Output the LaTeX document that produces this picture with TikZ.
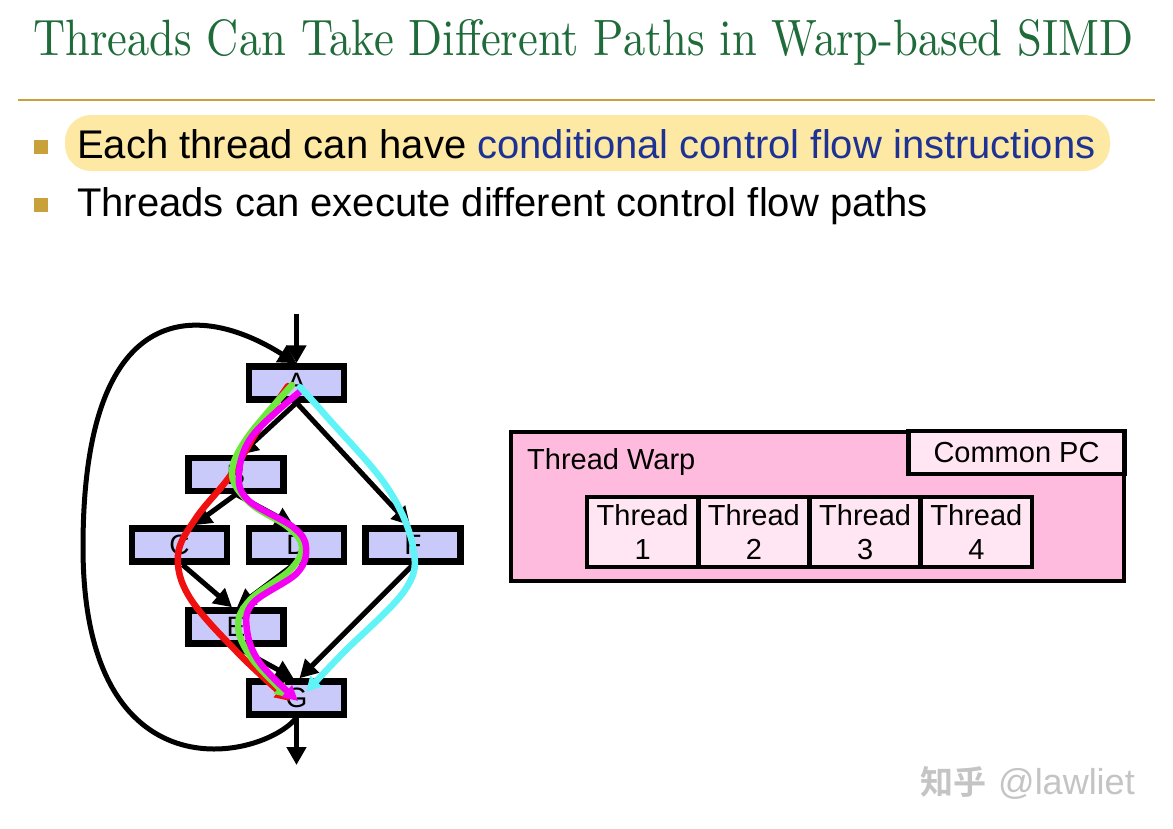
\documentclass[tikz,border=0pt]{standalone}
\usepackage{fontspec}
\usepackage{graphicx}
\newfontfamily\arial{Liberation Sans}
\newfontfamily\cjk{Noto Sans CJK SC Bold}
\usetikzlibrary{arrows.meta}
\definecolor{titlegreen}{HTML}{1F6B3A}
\definecolor{gold}{HTML}{C9A13A}
\definecolor{hlyellow}{HTML}{FDE9A3}
\definecolor{bluetext}{HTML}{1E3296}
\definecolor{lav}{HTML}{CACAFA}
\definecolor{pinkouter}{HTML}{FFBBDD}
\definecolor{pinkinner}{HTML}{FFE6F2}
\definecolor{pgreen}{HTML}{6EE83C}
\definecolor{pmag}{HTML}{F400F4}
\definecolor{pcyan}{HTML}{60F4F8}
\definecolor{pred}{HTML}{F01010}
\definecolor{wm}{HTML}{C4C4C4}
\begin{document}
\begin{tikzpicture}[x=1pt,y=-1pt,
  gbox/.style={draw=black, line width=6.5pt, fill=lav, minimum width=95pt, minimum height=33pt, inner sep=0pt, font=\arial\fontsize{28}{28}\selectfont},
  edge/.style={draw=black, line width=5pt, -{Triangle[length=18pt,width=19pt]}},
  tpath/.style={line width=6.5pt, line cap=round, line join=round, -{Triangle[length=15pt,width=15pt]}},
  cell/.style={draw=black, line width=4.5pt, fill=pinkinner, minimum width=111pt, minimum height=70pt, inner sep=0pt, align=center, font=\arial\fontsize{29}{34}\selectfont},
  bul/.style={fill=gold, minimum size=14pt, inner sep=0pt},
  btext/.style={anchor=base west, inner sep=0pt, font=\arial\fontsize{40}{40}\selectfont}
]
\fill[white] (0,0) rectangle (1173,828);
\useasboundingbox (0,0) rectangle (1173,828);

% title
\node[anchor=base west, inner sep=0pt, text=titlegreen] (title) at (33,55)
  {\resizebox{1100pt}{36pt}{Threads Can Take Different Paths in Warp-based SIMD}};
\draw[gold, line width=2.5pt] (18,100) -- (1155,100);

% bullets
\node[fill=hlyellow, rounded corners=26pt, minimum width=1045pt, minimum height=56pt, inner sep=0pt] (hl) at (587.5,143) {};
\node[bul] (b1) at (41,147) {};
\node[bul] (b2) at (41,205) {};
\node[btext] (t1) at (77,158) {Each thread can have \textcolor{bluetext}{conditional control flow instructions}};
\node[btext] (t2) at (77,216) {Threads can execute different control flow paths};

% graph
\node[gbox] (A) at (296.5,383) {A};
\node[gbox] (B) at (236,474.5) {B};
\node[gbox] (C) at (179.5,545) {C};
\node[gbox] (D) at (296.5,545) {D};
\node[gbox] (F) at (413,545) {F};
\node[gbox] (E) at (236,627) {E};
\node[gbox] (G) at (296.5,698) {G};
\coordinate (in) at (296.5,314);
\coordinate (out) at (296.5,765);

\draw[edge] (in) -- (A.north);
\draw[edge] (A.south) -- ([xshift=4pt]B.north);
\draw[edge] (A.south) -- ([xshift=-3pt]F.north);
\draw[edge] (B.south) -- ([xshift=14pt]C.north);
\draw[edge] (B.south) -- ([xshift=-3pt]D.north);
\draw[edge] ([xshift=3pt]C.south) -- ([xshift=-4pt]E.north);
\draw[edge] ([xshift=-3pt]D.south) -- ([xshift=1pt]E.north);
\draw[edge] (E.south) -- ([xshift=-3pt]G.north);
\draw[edge] (F.south) -- ([xshift=3pt]G.north);
\draw[edge] (G.south) -- (out);
\draw[edge] (G.south) .. controls (262,760) and (83,800) .. (83,547)
  .. controls (83,300) and (196,300) .. (A.north);

% thread paths
\draw[tpath, pred] plot[smooth, tension=0.6] coordinates {(288,386) (258,430) (230,476) (196,518) (178,555) (190,598) (240,655) (290,701)};
\draw[tpath, pgreen] plot[smooth, tension=0.6] coordinates {(292,385) (247,438) (232,474) (250,503) (288,527) (302,547) (290,570) (250,600) (238,627) (253,660) (290,698)};
\draw[tpath, pmag] plot[smooth, tension=0.6] coordinates {(302,390) (253,435) (239,473) (248,500) (293,527) (306,547) (297,573) (253,603) (247,630) (260,663) (298,701)};
\draw[tpath, pcyan] plot[smooth, tension=0.6] coordinates {(300,387) (327,417) (387,487) (413,547) (405,590) (343,653) (306,692)};

% thread warp
\node[draw=black, line width=4.5pt, fill=pinkouter, minimum width=613pt, minimum height=149pt, inner sep=0pt] (warp) at (817.5,506.5) {};
\node[draw=black, line width=4.5pt, fill=pinkinner, minimum width=216pt, minimum height=43pt, inner sep=0pt, font=\arial\fontsize{29}{29}\selectfont] (pc) at (1016.5,452.5) {Common PC};
\node[anchor=base west, inner sep=0pt, font=\arial\fontsize{29}{29}\selectfont] (wl) at (527,469) {Thread Warp};
\node[cell] (t1c) at (642.6,532) {Thread\\1};
\node[cell] (t2c) at (753.9,532) {Thread\\2};
\node[cell] (t3c) at (865.1,532) {Thread\\3};
\node[cell] (t4c) at (976.4,532) {Thread\\4};

% watermark
\node[anchor=base west, inner sep=0pt, text=wm] (wmk) at (920,794) {{\cjk\fontsize{33}{33}\selectfont 知乎}\hspace{12pt}{\arial\fontsize{36}{36}\selectfont @lawliet}};
\end{tikzpicture}
\end{document}
